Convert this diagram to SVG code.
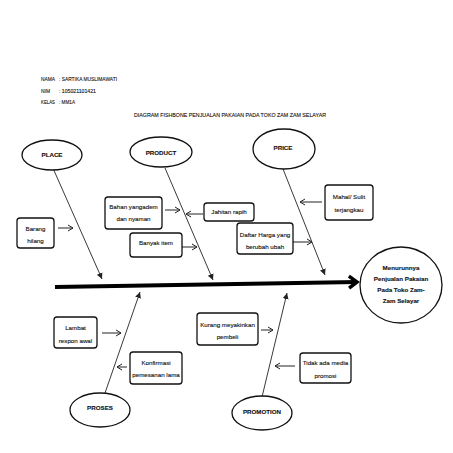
<svg xmlns="http://www.w3.org/2000/svg" width="453" height="453" viewBox="0 0 453 453">
<defs>
<style>
.t{font-family:"Liberation Sans",Arial,sans-serif;font-size:6.2px;fill:#111;stroke:#111;stroke-width:0.12;text-anchor:middle}
.h{font-family:"Liberation Sans",Arial,sans-serif;font-size:6px;fill:#111;stroke:#111;stroke-width:0.12}
.b{font-weight:bold}
.box{fill:#fff;stroke:#111;stroke-width:1.3}
.ell{fill:#fff;stroke:#111;stroke-width:1.3}
.bone{stroke:#222;stroke-width:0.9;fill:none}
.sub{stroke:#222;stroke-width:1;fill:none}
</style>
<marker id="ah" markerWidth="8" markerHeight="8" refX="6" refY="4" orient="auto" markerUnits="userSpaceOnUse">
<path d="M1,1 L6,4 L1,7" fill="none" stroke="#222" stroke-width="1"/>
</marker>
<marker id="bh" markerWidth="8" markerHeight="8" refX="6" refY="4" orient="auto" markerUnits="userSpaceOnUse">
<path d="M0,1 L6,4 L0,7 Z" fill="#222"/>
</marker>
<marker id="sh" markerWidth="16" markerHeight="16" refX="11" refY="8" orient="auto" markerUnits="userSpaceOnUse">
<path d="M3,2 L11,8 L3,14" fill="none" stroke="#000" stroke-width="3.5"/>
</marker>
</defs>
<rect width="453" height="453" fill="#fff"/>
<g id="header">
<text class="h" x="41" y="81" textLength="14" lengthAdjust="spacingAndGlyphs">NAMA</text>
<text class="h" x="59" y="81" textLength="58" lengthAdjust="spacingAndGlyphs">: SARTIKA MUSLIMAWATI</text>
<text class="h" x="41" y="93" textLength="9" lengthAdjust="spacingAndGlyphs">NIM</text>
<text class="h" x="59" y="93" textLength="37" lengthAdjust="spacingAndGlyphs">: 105021101421</text>
<text class="h" x="41" y="104" textLength="14" lengthAdjust="spacingAndGlyphs">KELAS</text>
<text class="h" x="59" y="104" textLength="16" lengthAdjust="spacingAndGlyphs">: MM1A</text>
<text class="h" x="134" y="117" textLength="192" lengthAdjust="spacingAndGlyphs">DIAGRAM FISHBONE PENJUALAN PAKAIAN PADA TOKO ZAM ZAM SELAYAR</text>
</g>
<g id="connectors">
<path d="M55,287 L357,282" stroke="#000" stroke-width="4" fill="none" marker-end="url(#sh)"/>
<line class="bone" x1="52" y1="166" x2="102" y2="279" marker-end="url(#bh)"/>
<line class="bone" x1="165" y1="168" x2="213" y2="280" marker-end="url(#bh)"/>
<line class="bone" x1="283" y1="169" x2="325" y2="275" marker-end="url(#bh)"/>
<line class="bone" x1="105" y1="393" x2="140" y2="292" marker-end="url(#bh)"/>
<line class="bone" x1="262" y1="397" x2="287" y2="293" marker-end="url(#bh)"/>
<line class="sub" x1="58" y1="228" x2="73" y2="228" marker-end="url(#ah)"/>
<line class="sub" x1="165" y1="210" x2="180" y2="210" marker-end="url(#ah)"/>
<line class="sub" x1="203" y1="214" x2="186" y2="214" marker-end="url(#ah)"/>
<line class="sub" x1="182" y1="247" x2="197" y2="247" marker-end="url(#ah)"/>
<line class="sub" x1="322" y1="202" x2="300" y2="202" marker-end="url(#ah)"/>
<line class="sub" x1="293" y1="242" x2="312" y2="242" marker-end="url(#ah)"/>
<line class="sub" x1="102" y1="333" x2="121" y2="333" marker-end="url(#ah)"/>
<line class="sub" x1="127" y1="367" x2="117" y2="367" marker-end="url(#ah)"/>
<line class="sub" x1="261" y1="330" x2="273" y2="330" marker-end="url(#ah)"/>
<line class="sub" x1="295" y1="366" x2="275" y2="366" marker-end="url(#ah)"/>
</g>
<g id="place"><ellipse class="ell" cx="52" cy="155" rx="30" ry="15"/><text class="t b" x="52" y="157">PLACE</text></g>
<g id="product"><ellipse class="ell" cx="161" cy="152" rx="31" ry="15"/><text class="t b" x="161" y="155">PRODUCT</text></g>
<g id="price"><ellipse class="ell" cx="284" cy="149" rx="31" ry="20"/><text class="t b" x="283" y="150">PRICE</text></g>
<g id="proses"><ellipse class="ell" cx="100" cy="410" rx="30" ry="17"/><text class="t b" x="100" y="410">PROSES</text></g>
<g id="promotion"><ellipse class="ell" cx="262" cy="413" rx="30" ry="17"/><text class="t b" x="262" y="414">PROMOTION</text></g>
<g id="effect"><ellipse class="ell" cx="401" cy="285" rx="41" ry="38"/>
<text class="t b" x="401" y="270">Menurunnya</text>
<text class="t b" x="401" y="281">Penjualan Pakaian</text>
<text class="t b" x="401" y="292">Pada Toko Zam-</text>
<text class="t b" x="401" y="303">Zam Selayar</text></g>
<g id="barang"><rect class="box" x="17" y="218" width="37" height="30" rx="3"/><text class="t" x="35.5" y="231">Barang</text><text class="t" x="35.5" y="243">hilang</text></g>
<g id="bahan"><rect class="box" x="105" y="197" width="57" height="32" rx="3"/><text class="t" x="133.5" y="209">Bahan yangadem</text><text class="t" x="133.5" y="221">dan nyaman</text></g>
<g id="jahitan"><rect class="box" x="204" y="203" width="50" height="18" rx="3"/><text class="t" x="229" y="214">Jahitan rapih</text></g>
<g id="banyak"><rect class="box" x="130" y="233" width="52" height="24" rx="3"/><text class="t" x="156" y="245">Banyak item</text></g>
<g id="mahal"><rect class="box" x="325" y="185" width="48" height="35" rx="3"/><text class="t" x="349" y="199">Mahal/ Sulit</text><text class="t" x="349" y="212">terjangkau</text></g>
<g id="daftar"><rect class="box" x="237" y="223" width="56" height="31" rx="3"/><text class="t" x="265" y="237">Daftar Harga yang</text><text class="t" x="265" y="249">berubah ubah</text></g>
<g id="lambat"><rect class="box" x="54" y="317" width="43" height="31" rx="3"/><text class="t" x="75.5" y="330">Lambat</text><text class="t" x="75.5" y="343">respon awal</text></g>
<g id="konfirmasi"><rect class="box" x="130" y="352" width="52" height="32" rx="3"/><text class="t" x="156" y="365">Konfirmasi</text><text class="t" x="156" y="377">pemesanan lama</text></g>
<g id="kurang"><rect class="box" x="197" y="313" width="61" height="32" rx="3"/><text class="t" x="227.5" y="327">Kurang meyakinkan</text><text class="t" x="227.5" y="339">pembeli</text></g>
<g id="tidak"><rect class="box" x="300" y="353" width="51" height="30" rx="3"/><text class="t" x="325.5" y="365">Tidak ada media</text><text class="t" x="325.5" y="378">promosi</text></g>
</svg>
